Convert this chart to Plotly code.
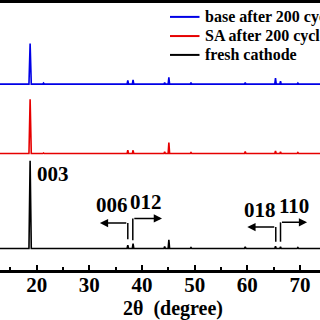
import plotly.graph_objects as go

# ---- data ----
peak_2theta = [18.75, 21.3, 37.3, 38.3, 44.3, 45.1, 49.3, 59.6, 65.35, 66.3, 69.6]
fresh_int   = [88.3, 0.0, 3.3, 5.0, 2.0, 8.7, 1.0, 1.5, 2.3, 1.7, 1.0]
sa_int      = [54.7, 0.5, 3.3, 3.3, 1.7, 11.0, 1.0, 2.0, 2.5, 1.7, 1.0]
base_int    = [41.0, 1.0, 3.7, 4.3, 1.5, 6.7, 1.5, 1.5, 6.0, 3.0, 1.0]
offsets = {"fresh": 21.7, "sa": 117.3, "base": 187.3}
series_names = ["base after 200 cycles", "SA after 200 cycles", "fresh cathode"]
series_colors = ["#0000e6", "#e60000", "#000000"]
tick_vals = [20, 30, 40, 50, 60, 70]
x_title = "2\u03b8&#160;&#160;(degree)"

hkl_labels = ["003", "006", "012", "018", "110"]

FONT = "Liberation Serif, Times New Roman, serif"


def pattern(peaks, heights, offset):
    xs, ys = [10.0], [offset]
    for p, h in zip(peaks, heights):
        w = 0.22 if h > 30 else 0.14
        xs += [p - w, p, p + w]
        ys += [offset, offset + h, offset]
    xs.append(80.0)
    ys.append(offset)
    return xs, ys


fig = go.Figure()
for name, col, ints, key in zip(series_names, series_colors,
                                [base_int, sa_int, fresh_int],
                                ["base", "sa", "fresh"]):
    x, y = pattern(peak_2theta, ints, offsets[key])
    fig.add_trace(go.Scatter(x=x, y=y, mode="lines", name=name,
                             line=dict(color=col, width=1.6),
                             showlegend=False))

# ---- manual legend ----
leg_rows = [15, 34.3, 53.3]  # pixel rows
def py2paper(py):
    return (270 - py) / 269.0

shapes = []
annotations = []
for name, col, row in zip(series_names, series_colors, leg_rows):
    shapes.append(dict(type="line", xref="paper", yref="paper",
                       x0=170 / 320, x1=199.5 / 320, y0=py2paper(row), y1=py2paper(row),
                       line=dict(color=col, width=2)))
    annotations.append(dict(xref="paper", yref="paper", x=202.5 / 320, y=py2paper(row),
                            text=name, showarrow=False, xanchor="left", yanchor="middle",
                            font=dict(family=FONT, size=16, color="black", weight="bold")))

# ---- hkl markers ----
stubs = [(37.3, 31, 47.3, 32.0), (38.25, 30, 52.0, 43.8),
         (65.4, 28.5, 43.3, 60.0), (66.3, 28.5, 48.0, 71.35)]
for xv, y0, y1, xtip in stubs:
    shapes.append(dict(type="line", xref="x", yref="y", x0=xv, x1=xv, y0=y0, y1=y1,
                       line=dict(color="black", width=1.5)))
    annotations.append(dict(x=xtip, y=y1, ax=xv, ay=y1, xref="x", yref="y",
                            axref="x", ayref="y", text="", showarrow=True,
                            arrowhead=2, arrowsize=1.1, arrowwidth=1.5, arrowcolor="black"))

label_pos = [(23.0, 96.5), (34.27, 65), (40.7, 68.5), (62.4, 60), (68.9, 64.5)]
for lab, (lx, ly) in zip(hkl_labels, label_pos):
    annotations.append(dict(x=lx, y=ly, xref="x", yref="y", text=lab, showarrow=False,
                            font=dict(family=FONT, size=21, color="black", weight="bold")))

# axis title (the original plot centre lies right of this crop's centre)
annotations.append(dict(xref="paper", yref="paper", x=173 / 320, y=py2paper(308.5),
                        text=x_title, showarrow=False, xanchor="center", yanchor="middle",
                        font=dict(family=FONT, size=20, color="black", weight="bold")))

fig.update_layout(
    width=320, height=320,
    margin=dict(l=0, r=0, t=1, b=50),
    paper_bgcolor="white", plot_bgcolor="white",
    shapes=shapes, annotations=annotations,
    xaxis=dict(range=[13.03, 73.80], showgrid=False, zeroline=False,
               showline=True, linecolor="black", linewidth=2.5, mirror=True,
               ticks="inside", ticklen=5, tickwidth=2, tickcolor="black",
               tickvals=tick_vals, ticklabelstandoff=-6,
               minor=dict(dtick=5, tick0=15, ticks="inside", ticklen=3, tickwidth=1.5,
                          tickcolor="black"),
               tickfont=dict(family=FONT, size=21, color="black", weight="bold")),
    yaxis=dict(range=[0, 269], visible=False, fixedrange=True),
)

fig.write_html("out.html")
